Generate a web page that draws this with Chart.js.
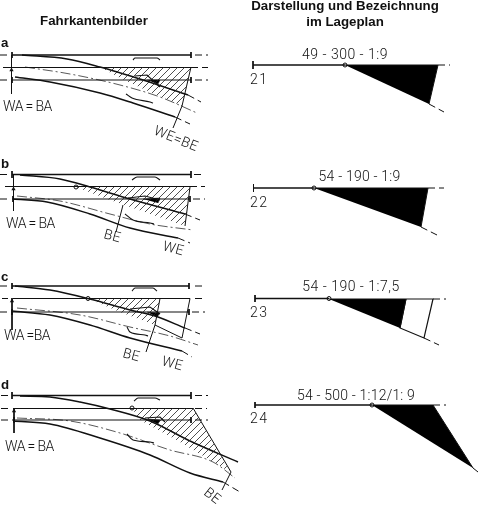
<!DOCTYPE html>
<html>
<head>
<meta charset="utf-8">
<script src="https://cdn.jsdelivr.net/npm/chart.js@4"></script>
<style>
html, body { margin: 0; padding: 0; background: #fff; }
canvas { display: block; }
</style>
</head>
<body>
<canvas id="myChart" width="478" height="505"></canvas>
<script>
// panel a
var aTop = [[12,55],[191,55]];
var aTopL = [[0,55],[8,55]];
var aTopR = [[195,55],[208,55]];
var aMid = [[3,67.5],[191,67.5]];
var aMidR = [[191,67.5],[208,67.5]];
var aLow = [[12,80],[191,80]];
var aLowL = [[0,80],[8,80]];
var aLowR = [[195,80],[208,80]];
var aStem = [[11.5,55],[11.5,94]];
var aUpper = [[22,55],[67,59],[100,67],[143,80],[188,95]];
var aUpperEnd = [[188,95],[201,102]];
var aAxis = [[25,67],[70,74],[120,85],[160,97],[197,113]];
var aLower = [[15,77],[50,82],[100,93],[133,103],[175,117]];
var aLowerEnd = [[175,117],[190,124]];
var aHatch = [[100,67],[191,67],[182,106],[150,92],[122,79]];
var aEdge = [[191,67],[182,106],[173,128]];
var aFrog = [[147,80],[160,80],[158,84]];
var aWing = [[135,76],[147,75],[160,87]];
var aBrTop = [[133,60],[135,58],[157,58],[160,60]];
var aBrLow = [[126,94],[132,98],[150,102],[153,103]];

// panel b
var bTop = [[12,174.5],[191,174.5]];
var bTopL = [[0,174.5],[8,174.5]];
var bTopR = [[194,174.5],[205,174.5]];
var bMid = [[5,186.5],[190,186.5]];
var bMidR = [[190,186.5],[205,186.5]];
var bLow = [[12,199],[190,199]];
var bLowL = [[0,199],[8,199]];
var bLowR = [[193,199],[205,199]];
var bStem = [[13.5,174],[13.5,211]];
var bUpper = [[20,175],[60,179],[90,187],[130,199],[185,214]];
var bUpperEnd = [[185,214],[200,220]];
var bAxis = [[17,196],[60,201],[110,214],[150,224],[193,230]];
var bLower = [[13,199],[47,202],[90,214],[130,228],[178,238]];
var bLowerEnd = [[178,238],[190,243]];
var bHatch = [[76,187],[190,187],[185,226],[110,200]];
var bEdge = [[190,187],[185,226]];
var bLeaderBE = [[123,205],[116,232]];
var bFrog = [[143,199],[160,198],[158,203]];
var bWing = [[128,198],[145,196],[160,200]];
var bBrTop = [[132,180],[137,177],[155,177],[160,180]];
var bBrLow = [[125,214],[133,220],[150,223],[154,224]];
var bSwitch = [[76,187]];

// panel c
var cTop = [[12,286],[189,286]];
var cTopL = [[0,286],[8,286]];
var cTopR = [[195,286],[205,286]];
var cMid = [[13,298.5],[190,298.5]];
var cMidL = [[2,298.5],[8,298.5]];
var cMidR = [[195,298.5],[205,298.5]];
var cLow = [[12,312],[189,312]];
var cLowL = [[0,312],[8,312]];
var cLowR = [[192,312],[205,312]];
var cStem = [[12,298],[12,330]];
var cUpper = [[15,286],[50,290],[90,299],[130,310],[155,316],[185,328]];
var cUpperEnd = [[185,328],[200,334]];
var cAxis = [[17,308],[80,315],[130,327],[170,336],[198,345]];
var cLower = [[12,311],[50,315],[90,325],[130,338],[182,351]];
var cLowerEnd = [[182,351],[192,357]];
var cHatch = [[88,298.5],[160,298.5],[155,325],[120,312]];
var cEdgeIn = [[160,298.5],[155,325],[146,352]];
var cEdgeOut = [[190,298.5],[182,338]];
var cClose = [[155,325],[182,338]];
var cFrog = [[147,312],[160,313],[157,317]];
var cWing = [[130,309],[150,307],[160,314]];
var cBrTop = [[132,291],[135,288],[153,288],[157,291]];
var cBrLow = [[127,327],[130,332],[145,335],[148,336]];
var cSwitch = [[88,298.5]];

// panel d
var dTop = [[12,395.5],[191,395.5]];
var dTopL = [[1,395.5],[8,395.5]];
var dTopR = [[195,395.5],[208,395.5]];
var dMid = [[13,408.5],[193,408.5]];
var dMidL = [[1,408.5],[9,408.5]];
var dMidR = [[195,408.5],[207,408.5]];
var dLow = [[12,420],[191,420]];
var dLowL = [[1,420],[8,420]];
var dLowR = [[195,420],[208,420]];
var dStem = [[14,408],[14,433]];
var dUpper = [[20,396],[50,397],[80,402],[110,409],[150,421],[190,441],[238,462]];
var dAxis = [[17,418],[70,421],[120,433],[170,450],[213,462],[235,478]];
var dLower = [[13,421],[50,424],[100,438],[150,455],[190,473],[223,482]];
var dLowerEnd = [[223,482],[240,492]];
var dHatch = [[132,408],[193,408],[230,472],[180,442],[140,420]];
var dEdge = [[193,408],[231,472],[222,490]];
var dFrog = [[147,419],[160,420],[158,424]];
var dWing = [[145,418],[160,417],[165,422]];
var dBrTop = [[134,401],[138,398],[155,398],[160,400]];
var dBrLow = [[127,434],[133,440],[150,442],[154,443]];
var dSwitch = [[132,408]];

// Lageplan symbols, right column
var p21Line = [[253,65],[345,65]];
var p21Fill = [[345,65],[438,65],[429,104]];
var p21Dash1 = [[438,65],[450,65]];
var p21Dash2 = [[429,104],[444,112]];
var p21Node = [[345,65]];
var p22Line = [[253.5,188],[314,188]];
var p22Fill = [[314,188],[428,188],[421,227]];
var p22Dash1 = [[428,188],[444,188]];
var p22Dash2 = [[421,227],[437,235]];
var p22Node = [[314,188]];
var p23Line = [[255,298.5],[329,298.5]];
var p23Fill = [[329,299],[406,299],[400,328]];
var p23Open = [[406,299],[433,299],[424,338],[400,328]];
var p23Dash1 = [[433,299],[446,299]];
var p23Dash2 = [[424,338],[439,345]];
var p23Node = [[329,298.5]];
var p24Line = [[255,405],[372,405]];
var p24Fill = [[372,405],[433,405],[473,468]];
var p24Dash1 = [[433,405],[446,405]];
var p24Dash2 = [[473,468],[478,472]];
var p24Node = [[372,405]];

var tickMarks = [
    [[12,52],[12,58]], [[191,52],[191,58]], [[12,77],[12,83]], [[191,77],[191,83]],
    [[12,171],[12,178]], [[191,171],[191,178]], [[13,196],[13,202]], [[190,196],[190,202]],
    [[12,283],[12,289]], [[189,283],[189,289]], [[12,309],[12,315]], [[189,309],[189,315]],
    [[12,392],[12,399]], [[191,392],[191,399]], [[14,417],[14,423]], [[191,417],[191,423]],
    [[253,61],[253,69]], [[253.5,184],[253.5,192]], [[255,295],[255,302]], [[255,402],[255,408]]
];
var stemArrows = [[11.5,70],[13.5,189],[12,301],[14,411]];

var panelLetters = ['a', 'b', 'c', 'd'];
var headings = ['Fahrkantenbilder', 'Darstellung und Bezeichnung', 'im Lageplan'];
var branchLabels = ['WA = BA', 'WA = BA', 'WA =BA', 'WA = BA'];
var pointLabels = ['WE=BE', 'BE', 'WE', 'BE', 'WE', 'BE'];
var designations = ['49 - 300 - 1:9', '54 - 190 - 1:9', '54 - 190 - 1:7,5', '54 - 500 - 1:12/1: 9'];
var symbolNumbers = ['21', '22', '23', '24'];

// diagonal hatching
function makeHatch() {
    var c = document.createElement('canvas');
    c.width = 7; c.height = 7;
    var g = c.getContext('2d');
    g.strokeStyle = '#222';
    g.lineWidth = 0.8;
    g.beginPath();
    g.moveTo(-1, 8); g.lineTo(8, -1);
    g.moveTo(-1, 1); g.lineTo(1, -1);
    g.moveTo(6, 8); g.lineTo(8, 6);
    g.stroke();
    return g.createPattern(c, 'repeat');
}

var datasets = [];
function add(pts, width, opts) {
    var d = {
        data: pts.map(function (p) { return {x: p[0], y: p[1]}; }),
        showLine: true,
        borderColor: '#111',
        borderWidth: width,
        pointRadius: 0,
        fill: false,
        clip: false
    };
    for (var k in (opts || {})) d[k] = opts[k];
    datasets.push(d);
}
function addAll(list, width, opts) {
    list.forEach(function (pts) { add(pts, width, opts); });
}

var hatch = makeHatch();
[aHatch, bHatch, cHatch, dHatch].forEach(function (pts) {
    add(pts, 0, {fill: 'shape', backgroundColor: hatch, borderColor: 'rgba(0,0,0,0)'});
});

var DASH = {borderDash: [7, 4]};
var SMOOTH = {cubicInterpolationMode: 'monotone'};

addAll([aTop, bTop, cTop, dTop], 1.3);
addAll([aLow, bLow, cLow, dLow], 1.2);
addAll([aMid, bMid, dMid], 1);
add(cMid, 1.2);
addAll([aStem, bStem, cStem, dStem], 1);
addAll([aTopL, aTopR, aLowL, aLowR, aMidR, bTopL, bTopR, bLowL, bLowR, bMidR,
    cTopL, cTopR, cMidL, cMidR, cLowL, cLowR, dTopL, dTopR, dMidL, dMidR, dLowL, dLowR,
    p21Dash1, p21Dash2, p22Dash1, p22Dash2, p23Dash1, p23Dash2, p24Dash1, p24Dash2], 1, DASH);
addAll([aUpperEnd, bUpperEnd, cUpperEnd, aLowerEnd, bLowerEnd, cLowerEnd, dLowerEnd], 1, DASH);
addAll([aAxis, bAxis, cAxis, dAxis], 0.7, {borderDash: [10, 3, 2, 3], cubicInterpolationMode: 'monotone'});
addAll([aUpper, bUpper, cUpper, dUpper, aLower, bLower, cLower, dLower], 1.5, SMOOTH);
addAll([aEdge, bEdge, bLeaderBE, cEdgeIn, cEdgeOut, cClose, dEdge], 1);
addAll([aWing, bWing, cWing, dWing], 1.1);
addAll([aBrTop, bBrTop, cBrTop, dBrTop, aBrLow, bBrLow, cBrLow, dBrLow], 1.1, SMOOTH);
addAll([aFrog, bFrog, cFrog, dFrog], 0.5, {fill: 'shape', backgroundColor: '#000'});
addAll(tickMarks, 1);
add(stemArrows, 0, {showLine: false, pointStyle: 'triangle', pointRadius: 2.5, pointBackgroundColor: '#111', pointBorderWidth: 0, rotation: 0});
addAll([p21Line, p22Line, p23Line, p24Line], 1.4);
addAll([p21Fill, p22Fill, p23Fill, p24Fill], 1, {fill: 'shape', backgroundColor: '#000'});
add(p23Open.concat([p23Open[0]]), 1.2);
addAll([p21Node, p22Node, p23Node, p24Node, bSwitch, cSwitch, dSwitch], 1, {
    showLine: false, pointRadius: 2, pointBackgroundColor: '#fff', pointBorderColor: '#111', pointBorderWidth: 1
});

var BOLD = 'bold 13.3px "Liberation Sans"';
var THIN = '300 14px Roboto';

function put(chart, text, x, y, font, align, angle, spacing) {
    var g = chart.ctx;
    g.save();
    g.translate(chart.scales.x.getPixelForValue(x), chart.scales.y.getPixelForValue(y));
    g.rotate((angle || 0) * Math.PI / 180);
    g.font = font;
    g.fillStyle = '#111';
    g.textAlign = align || 'left';
    g.textBaseline = 'alphabetic';
    g.letterSpacing = (spacing || 0) + 'px';
    g.fillText(text, 0, 0);
    g.restore();
}

var textPlugin = {
    id: 'texts',
    afterDatasetsDraw: function (chart) {
        put(chart, headings[0], 94, 25, BOLD, 'center');
        put(chart, headings[1], 345, 10, BOLD, 'center');
        put(chart, headings[2], 345, 26, BOLD, 'center');

        var letterY = [47, 168, 281, 389];
        panelLetters.forEach(function (t, i) { put(chart, t, 1, letterY[i], BOLD); });

        var waX = [3, 6, 4, 5], waY = [111, 228, 340, 451];
        branchLabels.forEach(function (t, i) { put(chart, t, waX[i], waY[i], THIN, 'left', 0, -0.6); });

        var lx = [153, 103, 162, 122, 161, 203], ly = [134, 238, 250, 357, 365, 494];
        var la = [22, 15, 15, 15, 15, 38];
        pointLabels.forEach(function (t, i) { put(chart, t, lx[i], ly[i], THIN, 'left', la[i], 0.3); });

        var dx = [345, 359.5, 351, 356], dy = [59, 181, 291, 400];
        var ds = [0.5, 0.2, 0.5, 0.2];
        designations.forEach(function (t, i) { put(chart, t, dx[i], dy[i], THIN, 'center', 0, ds[i]); });

        var ny = [84, 207, 317, 423];
        symbolNumbers.forEach(function (t, i) { put(chart, t, 250, ny[i], THIN, 'left', 0, 1.5); });
    }
};

var ctx = document.getElementById('myChart').getContext('2d');
var chart = new Chart(ctx, {
    type: 'scatter',
    data: {datasets: datasets},
    options: {
        responsive: false,
        animation: false,
        devicePixelRatio: 1,
        layout: {padding: 0, autoPadding: false},
        scales: {
            x: {type: 'linear', min: 0, max: 478, display: false},
            y: {type: 'linear', min: 0, max: 505, reverse: true, display: false}
        },
        plugins: {legend: {display: false}, title: {display: false}, tooltip: {enabled: false}}
    },
    plugins: [textPlugin]
});
</script>
</body>
</html>
